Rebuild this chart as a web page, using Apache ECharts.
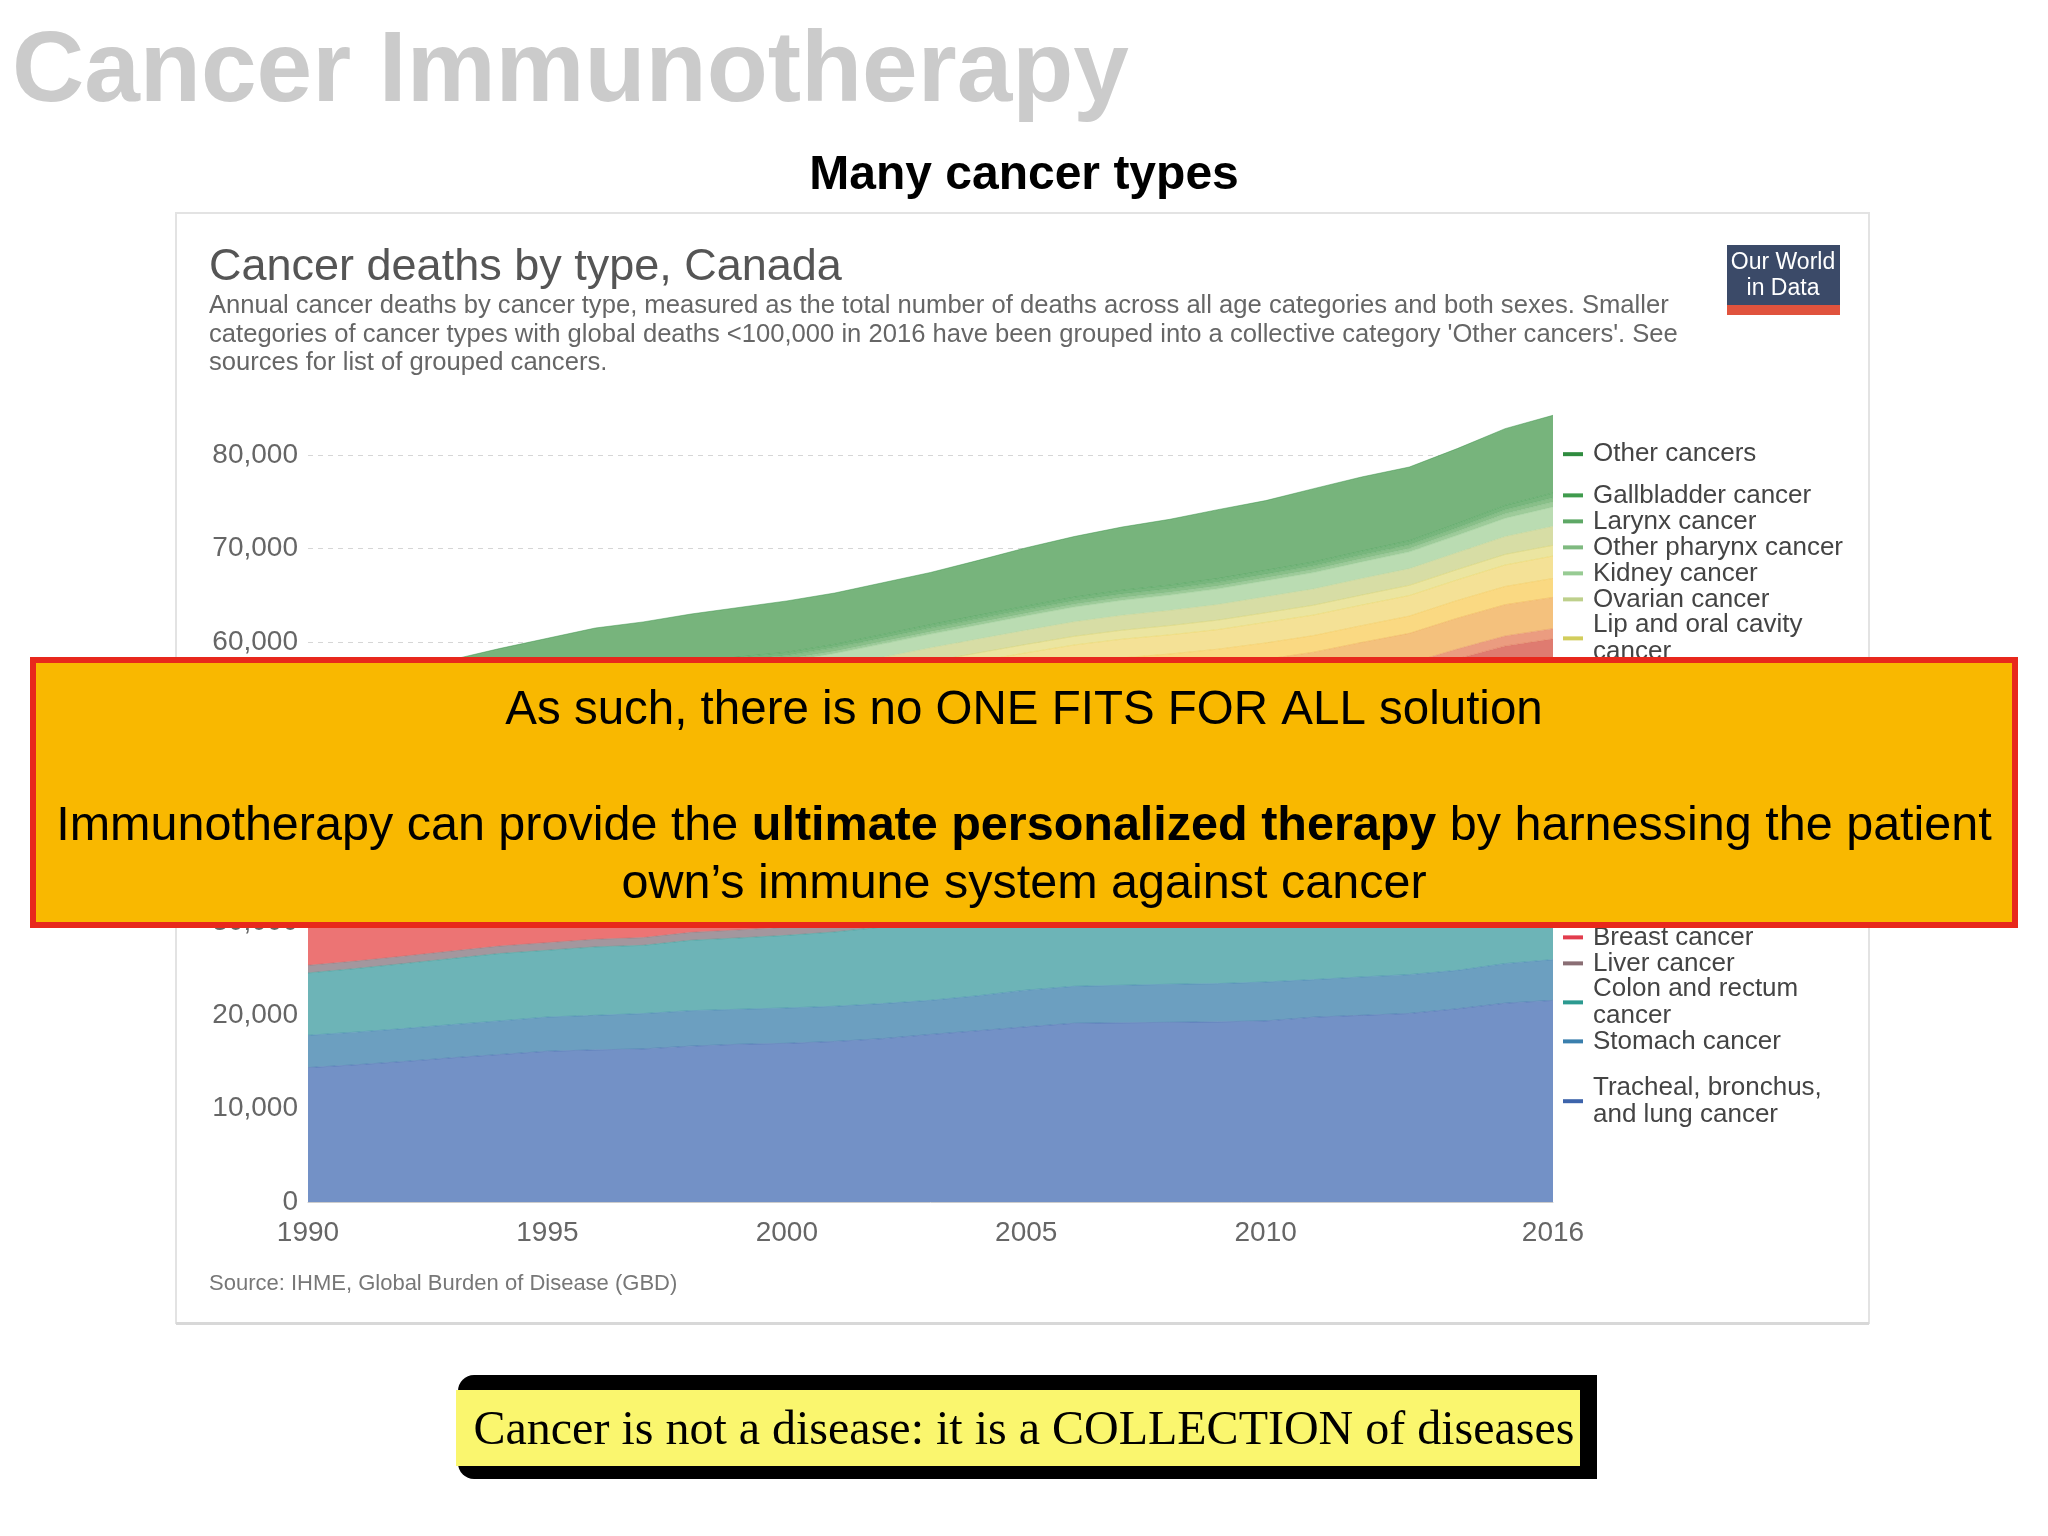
<!DOCTYPE html>
<html>
<head>
<meta charset="utf-8">
<title>Cancer deaths by type, Canada</title>
<script src="https://cdn.jsdelivr.net/npm/echarts@6/dist/echarts.min.js"></script>
<style>
html, body { margin: 0; padding: 0; background: #fff; }
#main { width: 2048px; height: 1536px; }
</style>
</head>
<body>
<div id="main"></div>
<script>
// years on the x axis
var years = [1990, 1991, 1992, 1993, 1994, 1995, 1996, 1997, 1998, 1999, 2000, 2001, 2002, 2003,
	2004, 2005, 2006, 2007, 2008, 2009, 2010, 2011, 2012, 2013, 2014, 2015, 2016];

// annual deaths, one array per cancer type (bottom of the stack first)
var lungCancer = [14400, 14700, 15050, 15450, 15800, 16150, 16300, 16400, 16700, 16900, 17000, 17200, 17500, 17950,
	18350, 18770, 19150, 19200, 19250, 19300, 19400, 19800, 20000, 20200, 20700, 21300, 21600];
var stomachCancer = [3460, 3500, 3530, 3550, 3600, 3670, 3700, 3790, 3800, 3750, 3790, 3770, 3760, 3660,
	3750, 3930, 3960, 4020, 4080, 4100, 4170, 4030, 4110, 4160, 4120, 4240, 4370];
var colonCancer = [6680, 6810, 6960, 7080, 7220, 7150, 7330, 7310, 7540, 7640, 7780, 7960, 8200, 8250,
	8300, 8350, 8450, 8500, 8600, 8650, 8750, 8850, 8950, 9050, 9150, 9300, 9450];
var liverCancer = [820, 800, 800, 800, 800, 820, 820, 830, 850, 860, 880, 900, 920, 950,
	980, 1010, 1040, 1070, 1100, 1130, 1160, 1200, 1240, 1280, 1320, 1360, 1400];
var breastCancer = [4900, 4950, 5000, 5000, 5050, 5050, 5050, 5000, 5000, 4950, 4950, 4950, 4950, 4950,
	4950, 5000, 5000, 5000, 5000, 5050, 5050, 5100, 5100, 5150, 5200, 5200, 5250];
var pancreaticCancer = [3430, 3530, 3590, 3680, 3790, 3920, 4050, 4120, 4100, 4150, 4150, 4220, 4300, 4410,
	4470, 4480, 4530, 4610, 4630, 4670, 4720, 4770, 4930, 5050, 5310, 5450, 5470];
var prostateCancer = [3190, 3290, 3360, 3440, 3530, 3660, 3790, 3850, 3830, 3870, 3870, 3950, 4020, 4130,
	4180, 4180, 4220, 4300, 4320, 4360, 4400, 4460, 4600, 4720, 4960, 5090, 5120];
var esophagealCancer = [1940, 2000, 2040, 2090, 2150, 2220, 2300, 2340, 2330, 2350, 2350, 2400, 2440, 2510,
	2540, 2540, 2560, 2610, 2620, 2650, 2670, 2710, 2790, 2870, 3010, 3090, 3110];
var leukemia = [2850, 2940, 3000, 3070, 3150, 3270, 3380, 3440, 3420, 3460, 3450, 3520, 3590, 3690,
	3730, 3730, 3770, 3840, 3860, 3890, 3930, 3980, 4110, 4220, 4430, 4550, 4570];
var multipleMyeloma = [700, 710, 720, 730, 740, 750, 760, 770, 780, 790, 800, 820, 840, 860,
	880, 900, 920, 940, 960, 980, 1000, 1010, 1020, 1030, 1050, 1070, 1090];
var nonHodgkin = [1800, 1850, 1900, 1950, 2000, 2050, 2100, 2150, 2200, 2250, 2300, 2350, 2400, 2450,
	2500, 2550, 2600, 2650, 2700, 2800, 2900, 3000, 3100, 3200, 3300, 3350, 3350];
var bladderCancer = [1100, 1120, 1140, 1160, 1180, 1200, 1230, 1260, 1290, 1320, 1350, 1380, 1410, 1440,
	1470, 1500, 1530, 1560, 1600, 1650, 1750, 1780, 1800, 1850, 1900, 1950, 2030];
var brainCancer = [1300, 1330, 1360, 1400, 1430, 1470, 1500, 1540, 1580, 1620, 1660, 1700, 1750, 1800,
	1850, 1900, 1950, 2000, 2050, 2100, 2200, 2200, 2200, 2200, 2200, 2300, 2400];
var lipOralCancer = [700, 710, 720, 730, 740, 750, 760, 770, 780, 790, 800, 820, 840, 860,
	880, 900, 930, 960, 990, 1010, 1030, 1050, 1070, 1090, 1110, 1130, 1150];
var ovarianCancer = [1250, 1260, 1280, 1290, 1300, 1320, 1330, 1350, 1370, 1390, 1410, 1420, 1440, 1470,
	1500, 1530, 1560, 1600, 1630, 1680, 1720, 1750, 1780, 1790, 1820, 1920, 2030];
var kidneyCancer = [1100, 1120, 1150, 1180, 1200, 1230, 1260, 1290, 1320, 1350, 1380, 1410, 1440, 1470,
	1500, 1540, 1580, 1610, 1640, 1680, 1720, 1750, 1780, 1800, 1850, 1960, 2080];
var pharynxCancer = [200, 200, 210, 210, 220, 220, 230, 230, 240, 240, 250, 250, 260, 260,
	270, 280, 290, 300, 300, 310, 320, 330, 340, 360, 400, 470, 530];
var larynxCancer = [380, 380, 380, 380, 380, 380, 380, 380, 380, 380, 380, 380, 380, 380,
	380, 380, 380, 380, 380, 380, 380, 390, 390, 400, 410, 440, 460];
var gallbladderCancer = [300, 300, 310, 310, 320, 320, 330, 330, 340, 340, 350, 350, 360, 360,
	370, 380, 380, 390, 390, 400, 400, 410, 420, 430, 440, 470, 500];
var otherCancers = [4300, 4400, 4500, 4600, 4700, 4800, 4900, 5000, 5150, 5300, 5500, 5500, 5550, 5600,
	5900, 6250, 6500, 6780, 7050, 7390, 7480, 7860, 7950, 7900, 8040, 8220, 8330];

var seriesNames = ['Tracheal, bronchus, and lung cancer', 'Stomach cancer', 'Colon and rectum cancer',
	'Liver cancer', 'Breast cancer', 'Pancreatic cancer', 'Prostate cancer', 'Esophageal cancer',
	'Leukemia', 'Multiple myeloma', 'Non-Hodgkin lymphoma', 'Bladder cancer',
	'Brain and nervous system cancer', 'Lip and oral cavity cancer', 'Ovarian cancer', 'Kidney cancer',
	'Other pharynx cancer', 'Larynx cancer', 'Gallbladder cancer', 'Other cancers'];
var seriesValues = [lungCancer, stomachCancer, colonCancer, liverCancer, breastCancer, pancreaticCancer,
	prostateCancer, esophagealCancer, leukemia, multipleMyeloma, nonHodgkin, bladderCancer, brainCancer,
	lipOralCancer, ovarianCancer, kidneyCancer, pharynxCancer, larynxCancer, gallbladderCancer, otherCancers];

var fillColors = ['#7391c6', '#6c9fc0', '#6db4b7', '#a3979e', '#ec7474', '#e2736e', '#e4796f', '#e0786f',
	'#df7b70', '#eb9c80', '#f4c17d', '#fad982', '#f4e196', '#ebe5a0', '#d7dda5', '#badcb2',
	'#9ecb9a', '#89bf89', '#78b67d', '#77b47c'];
var markerColors = ['#3d64ab', '#3a7fad', '#2c9a90', '#8a6e74', '#e23d4d', '#d9534f', '#d65f4f', '#d86a50',
	'#dc7050', '#e28a5c', '#eca54a', '#f2c244', '#e8d050', '#d2cd5c', '#bed08c', '#97cb93',
	'#7fba80', '#5ea866', '#3f9b4d', '#2f8c3f'];

var FONT = '"Liberation Sans", Arial, Helvetica, sans-serif';

var myChart = echarts.init(document.getElementById('main'));

var series = seriesNames.map(function (name, i) {
	return {
		name: name,
		type: 'line',
		stack: 'deaths',
		data: seriesValues[i],
		symbol: 'none',
		silent: true,
		lineStyle: { width: 1, color: markerColors[i], opacity: 0.45 },
		areaStyle: { color: fillColors[i], opacity: 1 },
		emphasis: { disabled: true }
	};
});

var option = {
	animation: false,
	backgroundColor: '#ffffff',
	grid: {
		left: 308,
		right: 495,
		top: 362,
		bottom: 334,
		containLabel: false,
		outerBoundsMode: 'none'
	},
	xAxis: {
		type: 'category',
		data: years,
		boundaryGap: false,
		axisLine: { lineStyle: { color: '#cccccc' } },
		axisTick: { show: false },
		axisLabel: {
			interval: function (index, value) {
				var y = Number(value);
				return (y % 5 === 0 && y < 2015) || y === 2016;
			},
			fontSize: 28,
			fontFamily: FONT,
			color: '#666',
			margin: 17
		}
	},
	yAxis: {
		type: 'value',
		min: 0,
		max: 90000,
		interval: 10000,
		axisLine: { show: false },
		axisTick: { show: false },
		axisLabel: {
			fontSize: 28,
			fontFamily: FONT,
			color: '#666',
			margin: 10,
			showMaxLabel: false,
			formatter: function (v) { return v.toLocaleString('en-US'); }
		},
		splitLine: {
			showMinLine: false,
			showMaxLine: false,
			lineStyle: { color: '#d6d6d6', type: [5, 5], width: 1 }
		}
	},
	series: series
};
myChart.setOption(option);

// legend labels sit at the middle of each band in 2016, pushed down when they collide (like OWID)
function wrapLabel(ctx, name, maxWidth) {
	var words = name.split(' ');
	var lines = [];
	var line = '';
	words.forEach(function (w) {
		var test = line ? line + ' ' + w : w;
		if (line && ctx.measureText(test).width > maxWidth) {
			lines.push(line);
			line = w;
		} else {
			line = test;
		}
	});
	lines.push(line);
	return lines;
}

function legendElements() {
	var ctx = document.createElement('canvas').getContext('2d');
	ctx.font = '26px ' + FONT;
	var last = years.length - 1;
	var items = [];
	var base = 0;
	for (var i = 0; i < seriesNames.length; i++) {
		var v = seriesValues[i][last];
		var mid = base + v / 2;
		base += v;
		items.push({
			lines: wrapLabel(ctx, seriesNames[i], 262),
			color: markerColors[i],
			y: myChart.convertToPixel({ yAxisIndex: 0 }, mid)
		});
	}
	items.reverse();
	var row = 26;
	var prevBottom = -1e9;
	var els = [];
	items.forEach(function (it) {
		var h = it.lines.length * row;
		var top = Math.max(it.y - h / 2, prevBottom);
		var cy = top + h / 2;
		prevBottom = top + h;
		els.push({
			type: 'rect', z: 5, silent: true,
			shape: { x: 1563, y: cy - 2, width: 20, height: 4 },
			style: { fill: it.color }
		});
		els.push({
			type: 'text', z: 5, silent: true, x: 1593, y: cy,
			style: {
				text: it.lines.join('\n'),
				fontSize: 26, fontFamily: FONT, fill: '#444', lineHeight: 27,
				align: 'left', textAlign: 'left', verticalAlign: 'middle', textVerticalAlign: 'middle'
			}
		});
	});
	return els;
}

function textEl(x, y, text, size, color, extra) {
	var st = {
		text: text, fontSize: size, fontFamily: FONT, fill: color,
		align: 'left', textAlign: 'left', verticalAlign: 'middle', textVerticalAlign: 'middle'
	};
	for (var k in extra) { st[k] = extra[k]; }
	return { type: 'text', x: x, y: y, z: 6, silent: true, style: st };
}

var elements = [];
// slide headings
elements.push(textEl(12, 73, 'Cancer Immunotherapy', 100, '#cbcbcb', { fontWeight: 'bold' }));
elements.push(textEl(1024, 176, 'Many cancer types', 48, '#000', { fontWeight: 'bold', align: 'center', textAlign: 'center' }));
// chart card
elements.push({
	type: 'rect', z: 1, silent: true,
	shape: { x: 176, y: 213, width: 1693, height: 1110 },
	style: { fill: 'none', stroke: '#e3e3e3', lineWidth: 2 }
});
elements.push({
	type: 'rect', z: 1, silent: true,
	shape: { x: 176, y: 1322, width: 1693, height: 3 },
	style: { fill: '#d8d8d8' }
});
elements.push(textEl(209, 268, 'Cancer deaths by type, Canada', 45, '#555'));
elements.push(textEl(209, 292, 'Annual cancer deaths by cancer type, measured as the total number of deaths across all age categories and both sexes. Smaller\ncategories of cancer types with global deaths <100,000 in 2016 have been grouped into a collective category \'Other cancers\'. See\nsources for list of grouped cancers.',
	25.6, '#666', { lineHeight: 28.5, verticalAlign: 'top', textVerticalAlign: 'top' }));
elements.push(textEl(209, 1284, 'Source: IHME, Global Burden of Disease (GBD)', 22, '#777'));
// OWID logo
elements.push({ type: 'rect', z: 6, silent: true, shape: { x: 1727, y: 245, width: 113, height: 70 }, style: { fill: '#3b4a68' } });
elements.push({ type: 'rect', z: 6, silent: true, shape: { x: 1727, y: 305, width: 113, height: 10 }, style: { fill: '#e0533d' } });
elements.push(textEl(1783, 263, 'Our World', 23, '#fff', { align: 'center', textAlign: 'center', fontFamily: '"Liberation Sans Narrow", ' + FONT }));
elements.push(textEl(1783, 289, 'in Data', 23, '#fff', { align: 'center', textAlign: 'center', fontFamily: '"Liberation Sans Narrow", ' + FONT }));

elements = elements.concat(legendElements());

// orange call-out box over the chart
elements.push({
	type: 'rect', z: 100, silent: true,
	shape: { x: 33, y: 660, width: 1982, height: 265 },
	style: { fill: '#f9b800', stroke: '#e8281c', lineWidth: 6 }
});
elements.push({
	type: 'text', z: 101, silent: true, x: 1024, y: 711,
	style: {
		text: 'As such, there is no ONE FITS FOR ALL solution',
		fontSize: 47.5, fontFamily: FONT, fill: '#000',
		align: 'center', textAlign: 'center', verticalAlign: 'middle', textVerticalAlign: 'middle'
	}
});
elements.push({
	type: 'text', z: 101, silent: true, x: 1024, y: 827,
	style: {
		text: 'Immunotherapy can provide the {b|ultimate personalized therapy} by harnessing the patient',
		fontSize: 48.5, fontFamily: FONT, fill: '#000',
		rich: { b: { fontSize: 48.5, fontFamily: FONT, fontWeight: 'bold', fill: '#000' } },
		align: 'center', textAlign: 'center', verticalAlign: 'middle', textVerticalAlign: 'middle'
	}
});
elements.push({
	type: 'text', z: 101, silent: true, x: 1024, y: 885,
	style: {
		text: 'own\u2019s immune system against cancer',
		fontSize: 48.5, fontFamily: FONT, fill: '#000',
		align: 'center', textAlign: 'center', verticalAlign: 'middle', textVerticalAlign: 'middle'
	}
});

// yellow note at the bottom
elements.push({
	type: 'rect', z: 100, silent: true,
	shape: { x: 458, y: 1375, width: 1139, height: 104, r: [16, 0, 0, 16] },
	style: { fill: '#000' }
});
elements.push({
	type: 'rect', z: 101, silent: true,
	shape: { x: 456, y: 1390, width: 1124, height: 76 },
	style: { fill: '#faf66e' }
});
elements.push({
	type: 'text', z: 102, silent: true, x: 1024, y: 1431,
	style: {
		text: 'Cancer is not a disease: it is a COLLECTION of diseases',
		fontSize: 48, fontFamily: '"Liberation Serif", "Times New Roman", serif', fill: '#000',
		align: 'center', textAlign: 'center', verticalAlign: 'middle', textVerticalAlign: 'middle'
	}
});

myChart.setOption({ graphic: { elements: elements } });
</script>
</body>
</html>
